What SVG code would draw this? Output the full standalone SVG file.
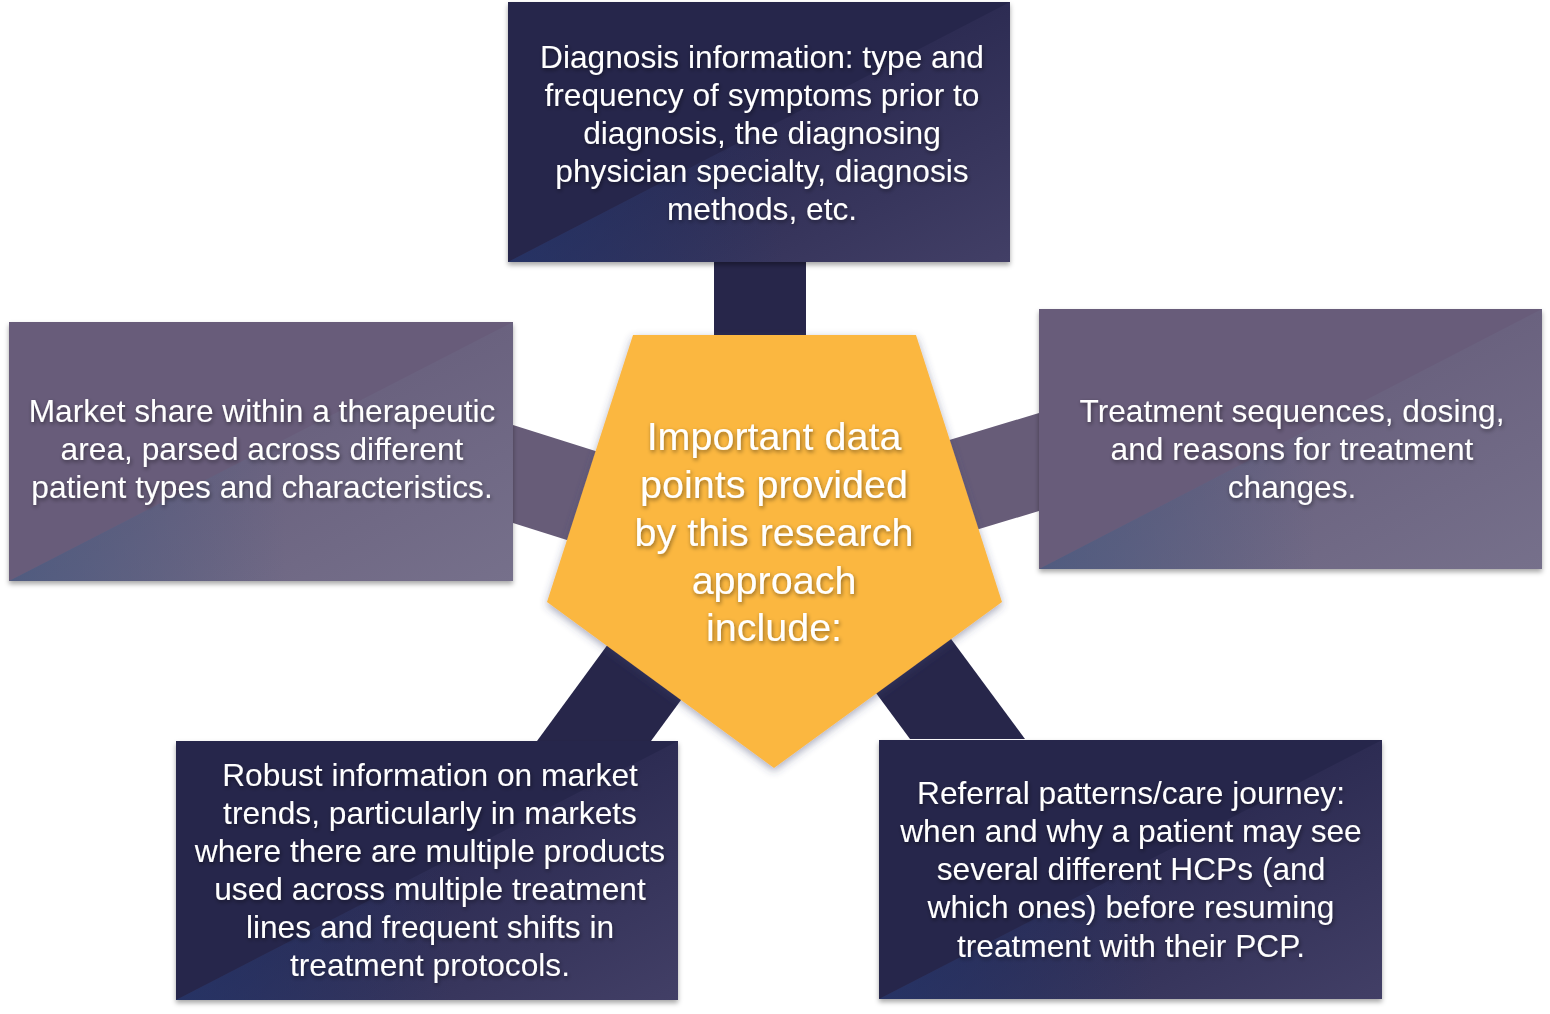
<svg xmlns="http://www.w3.org/2000/svg" width="1550" height="1014" viewBox="0 0 1550 1014">
<defs>
<style>
.dark{fill:#27264C}
.purple{fill:#675C7A}
.bandD{fill:#27264A}
.bandP{fill:#675C78}
.txt{font-family:"Liberation Sans",Arial,sans-serif;font-size:31.7px;fill:#FFFFFF;text-anchor:middle;filter:url(#ts)}
.ctxt{font-family:"Liberation Sans",Arial,sans-serif;font-size:39.5px;fill:#FFFFFF;text-anchor:middle;filter:url(#ts)}
</style>
<linearGradient id="gD" x1="0" y1="0" x2="1" y2="1">
<stop offset="0.5" stop-color="#2D2C53"/>
<stop offset="1" stop-color="#423F66"/>
</linearGradient>
<linearGradient id="gDb" x1="0" y1="0" x2="1" y2="0">
<stop offset="0" stop-color="#24356A" stop-opacity="0.75"/>
<stop offset="0.55" stop-color="#24356A" stop-opacity="0"/>
</linearGradient>
<linearGradient id="gP" x1="0" y1="0" x2="1" y2="1">
<stop offset="0.5" stop-color="#6A627F"/>
<stop offset="1" stop-color="#76708B"/>
</linearGradient>
<linearGradient id="gPb" x1="0" y1="0" x2="1" y2="0">
<stop offset="0" stop-color="#4A5A80" stop-opacity="0.8"/>
<stop offset="0.55" stop-color="#4A5A80" stop-opacity="0"/>
</linearGradient>
<filter id="bs" x="-5%" y="-5%" width="110%" height="115%">
<feDropShadow dx="0" dy="3" stdDeviation="2.5" flood-color="#000000" flood-opacity="0.35"/>
</filter>
<filter id="ps" x="-10%" y="-10%" width="120%" height="120%">
<feDropShadow dx="0" dy="3" stdDeviation="4" flood-color="#3A3F6A" flood-opacity="0.45"/>
</filter>
<filter id="ts" x="-5%" y="-30%" width="110%" height="160%">
<feDropShadow dx="1" dy="2" stdDeviation="2" flood-color="#000000" flood-opacity="0.45"/>
</filter>
</defs>
<rect width="1550" height="1014" fill="#FFFFFF"/>

<g id="connectors">
<rect class="bandD" x="714" y="255" width="92" height="150"/>
<polygon class="bandP" points="513,425 700,484 700,582 513,523"/>
<polygon class="bandP" points="1039,413 850,470 850,568 1039,511"/>
<polygon class="bandD" points="537,741 655,580 769,580 651,741"/>
<polygon class="bandD" points="910,739 791,578 906,578 1025,739"/>
</g>

<g id="center">
<polygon points="633,335 916,335 1002,602 774,768 547,602" fill="#FBB741" filter="url(#ps)"/>
<text class="ctxt" x="774" y="450">Important data</text>
<text class="ctxt" x="774" y="498">points provided</text>
<text class="ctxt" x="774" y="546">by this research</text>
<text class="ctxt" x="774" y="594">approach</text>
<text class="ctxt" x="774" y="641">include:</text>
</g>

<g id="node-diagnosis">
<g filter="url(#bs)">
<rect class="dark" x="508" y="2" width="502" height="260"/>
</g>
<polygon points="508,262 1010,2 1010,262" fill="url(#gD)"/>
<polygon points="508,262 1010,2 1010,262" fill="url(#gDb)"/>
<text class="txt" x="762" y="68">Diagnosis information: type and</text>
<text class="txt" x="762" y="106">frequency of symptoms prior to</text>
<text class="txt" x="762" y="144">diagnosis, the diagnosing</text>
<text class="txt" x="762" y="182">physician specialty, diagnosis</text>
<text class="txt" x="762" y="220">methods, etc.</text>
</g>

<g id="node-market-share">
<g filter="url(#bs)">
<rect class="purple" x="9" y="322" width="504" height="259"/>
</g>
<polygon points="9,581 513,322 513,581" fill="url(#gP)"/>
<polygon points="9,581 513,322 513,581" fill="url(#gPb)"/>
<text class="txt" x="262" y="422">Market share within a therapeutic</text>
<text class="txt" x="262" y="460">area, parsed across different</text>
<text class="txt" x="262" y="498">patient types and characteristics. </text>
</g>

<g id="node-treatment">
<g filter="url(#bs)">
<rect class="purple" x="1039" y="309" width="503" height="260"/>
</g>
<polygon points="1039,569 1542,309 1542,569" fill="url(#gP)"/>
<polygon points="1039,569 1542,309 1542,569" fill="url(#gPb)"/>
<text class="txt" x="1292" y="422">Treatment sequences, dosing,</text>
<text class="txt" x="1292" y="460">and reasons for treatment</text>
<text class="txt" x="1292" y="498">changes.</text>
</g>

<g id="node-market-trends">
<g filter="url(#bs)">
<rect class="dark" x="176" y="741" width="502" height="259"/>
</g>
<polygon points="176,1000 678,741 678,1000" fill="url(#gD)"/>
<polygon points="176,1000 678,741 678,1000" fill="url(#gDb)"/>
<text class="txt" x="430" y="786">Robust information on market</text>
<text class="txt" x="430" y="824">trends, particularly in markets</text>
<text class="txt" x="430" y="862">where there are multiple products</text>
<text class="txt" x="430" y="900">used across multiple treatment</text>
<text class="txt" x="430" y="938">lines and frequent shifts in</text>
<text class="txt" x="430" y="976">treatment protocols.</text>
</g>

<g id="node-referral">
<g filter="url(#bs)">
<rect class="dark" x="879" y="740" width="503" height="259"/>
</g>
<polygon points="879,999 1382,740 1382,999" fill="url(#gD)"/>
<polygon points="879,999 1382,740 1382,999" fill="url(#gDb)"/>
<text class="txt" x="1131" y="804">Referral patterns/care journey:</text>
<text class="txt" x="1131" y="842">when and why a patient may see</text>
<text class="txt" x="1131" y="880">several different HCPs (and</text>
<text class="txt" x="1131" y="918">which ones) before resuming</text>
<text class="txt" x="1131" y="957">treatment with their PCP.</text>
</g>
</svg>
